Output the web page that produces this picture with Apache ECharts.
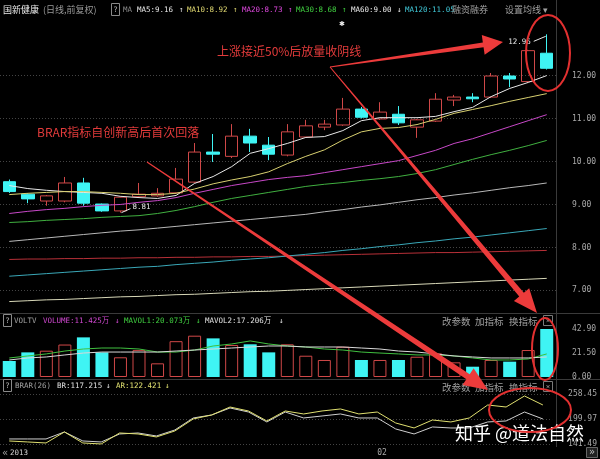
<!DOCTYPE html>
<html>
<head>
<meta charset="utf-8">
<script src="https://cdn.jsdelivr.net/npm/echarts@6/dist/echarts.min.js"></script>
<style>
html, body { margin: 0; padding: 0; background: #000; }
#main { width: 600px; height: 459px; }
</style>
</head>
<body>
<div id="main"></div>
<script>
// 交易日
var dates = ['2013-01-04','2013-01-07','2013-01-08','2013-01-09','2013-01-10','2013-01-11','2013-01-14','2013-01-15',
  '2013-01-16','2013-01-17','2013-01-18','2013-01-21','2013-01-22','2013-01-23','2013-01-24','2013-01-25',
  '2013-01-28','2013-01-29','2013-01-30','2013-01-31','2013-02-01','2013-02-04','2013-02-05','2013-02-06',
  '2013-02-07','2013-02-08','2013-02-18','2013-02-19','2013-02-20','2013-02-21'];

// [open, close, low, high]
var kline = [
  [9.53, 9.30, 9.27, 9.58], [9.24, 9.13, 9.03, 9.26], [9.08, 9.20, 8.97, 9.22], [9.08, 9.50, 9.05, 9.64],
  [9.50, 9.03, 8.97, 9.62], [9.01, 8.85, 8.83, 9.02], [8.85, 9.17, 8.81, 9.19], [9.18, 9.24, 9.16, 9.50],
  [9.20, 9.26, 9.18, 9.38], [9.27, 9.59, 9.25, 9.85], [9.52, 10.22, 9.50, 10.43], [10.22, 10.17, 9.99, 10.64],
  [10.12, 10.59, 10.08, 10.87], [10.59, 10.43, 10.22, 10.76], [10.38, 10.17, 10.03, 10.57], [10.15, 10.69, 10.12, 10.87],
  [10.57, 10.83, 10.55, 10.97], [10.80, 10.87, 10.73, 10.97], [10.85, 11.22, 10.83, 11.48], [11.22, 11.03, 11.00, 11.27],
  [10.99, 11.15, 10.97, 11.38], [11.10, 10.90, 10.85, 11.29], [10.80, 10.97, 10.55, 10.99], [10.94, 11.45, 10.92, 11.59],
  [11.43, 11.50, 11.29, 11.55], [11.50, 11.46, 11.38, 11.59], [11.50, 11.99, 11.48, 12.06], [11.99, 11.92, 11.73, 12.06],
  [11.86, 12.58, 11.83, 12.60], [12.52, 12.17, 12.14, 12.96]
];

// 均线
var ma5 = [9.44, 9.37, 9.33, 9.30, 9.28, 9.26, 9.19, 9.16, 9.14, 9.21, 9.49, 9.65, 9.88, 10.19, 10.30,
  10.42, 10.56, 10.58, 10.72, 10.95, 11.02, 11.02, 11.02, 11.05, 11.16, 11.26, 11.51, 11.70, 11.84, 12.00];
var ma10 = [9.23, 9.26, 9.28, 9.30, 9.30, 9.28, 9.26, 9.23, 9.23, 9.26, 9.36, 9.48, 9.57, 9.65, 9.76,
  9.95, 10.12, 10.27, 10.50, 10.69, 10.77, 10.79, 10.86, 10.98, 11.12, 11.21, 11.30, 11.40, 11.49, 11.58];
var ma20 = [8.79, 8.84, 8.88, 8.91, 8.95, 8.98, 9.00, 9.05, 9.09, 9.16, 9.26, 9.35, 9.44, 9.51, 9.58,
  9.63, 9.67, 9.74, 9.81, 9.88, 9.95, 10.02, 10.14, 10.26, 10.42, 10.53, 10.67, 10.81, 10.95, 11.09];
var ma30 = [8.58, 8.60, 8.63, 8.65, 8.67, 8.70, 8.72, 8.74, 8.79, 8.86, 8.95, 9.05, 9.14, 9.21, 9.28,
  9.35, 9.42, 9.47, 9.51, 9.56, 9.60, 9.65, 9.72, 9.81, 9.93, 10.05, 10.16, 10.26, 10.37, 10.49];
var ma60 = [8.14, 8.18, 8.22, 8.26, 8.30, 8.34, 8.38, 8.41, 8.45, 8.49, 8.53, 8.57, 8.61, 8.65, 8.69,
  8.73, 8.77, 8.83, 8.88, 8.94, 8.99, 9.05, 9.11, 9.16, 9.22, 9.27, 9.33, 9.39, 9.44, 9.50];
var maRed = [7.72, 7.73, 7.73, 7.74, 7.74, 7.75, 7.75, 7.76, 7.76, 7.77, 7.77, 7.78, 7.78, 7.79, 7.79,
  7.80, 7.81, 7.82, 7.83, 7.84, 7.85, 7.86, 7.87, 7.88, 7.88, 7.89, 7.90, 7.91, 7.92, 7.93];
var ma120 = [7.33, 7.36, 7.39, 7.42, 7.45, 7.48, 7.51, 7.54, 7.56, 7.60, 7.63, 7.66, 7.70, 7.73, 7.76,
  7.80, 7.84, 7.88, 7.93, 7.97, 8.02, 8.06, 8.11, 8.15, 8.20, 8.24, 8.29, 8.34, 8.39, 8.44];
var maLong = [6.74, 6.76, 6.78, 6.79, 6.81, 6.83, 6.85, 6.86, 6.88, 6.90, 6.91, 6.93, 6.95, 6.97, 6.98,
  7.00, 7.02, 7.04, 7.06, 7.08, 7.10, 7.12, 7.14, 7.16, 7.18, 7.20, 7.22, 7.24, 7.26, 7.28];

// 成交量 (万)
var volume = [14.3, 22.0, 23.5, 29.0, 35.4, 22.0, 17.6, 24.0, 12.2, 32.0, 36.9, 34.5, 28.6, 29.2, 22.0,
  29.2, 19.0, 15.2, 27.0, 15.2, 15.2, 15.2, 18.1, 21.1, 13.1, 9.2, 15.2, 13.7, 24.1, 42.9];
var mavol1 = [17.0, 18.8, 20.6, 23.2, 25.0, 25.9, 25.9, 25.0, 22.3, 22.3, 24.1, 27.7, 29.5, 32.2, 29.5,
  27.7, 26.8, 25.0, 24.1, 22.3, 21.4, 20.6, 19.7, 19.7, 18.8, 17.0, 15.2, 15.2, 16.1, 20.6];
var mavol2 = [15.2, 17.0, 17.9, 19.7, 21.4, 22.3, 22.3, 22.3, 22.3, 23.2, 24.1, 25.0, 25.9, 26.8, 27.7,
  27.7, 26.8, 26.8, 26.8, 25.9, 25.0, 23.2, 22.3, 20.6, 18.8, 17.9, 17.0, 17.0, 17.0, 17.9];

// BRAR(26)
var br = [153.2, 153.2, 153.2, 169.6, 148.5, 146.2, 164.9, 167.2, 160.2, 174.2, 202.3, 209.3, 225.7, 216.3, 193.0,
  216.3, 202.3, 207.0, 211.7, 202.3, 202.3, 176.6, 164.9, 181.3, 178.9, 178.9, 193.0, 195.3, 216.3, 200.0];
var ar = [148.5, 146.2, 143.8, 169.6, 143.8, 141.5, 167.2, 164.9, 157.9, 171.9, 200.0, 209.3, 228.0, 218.7, 195.3,
  218.7, 211.7, 218.7, 223.4, 211.7, 216.3, 190.6, 178.9, 197.6, 193.0, 202.3, 232.7, 228.0, 253.8, 232.7];

// 刻度
var priceTicks = [7, 8, 9, 10, 11, 12];
var volTicks = [0, 21.5, 42.9];
var brarTicks = [141.49, 199.97, 258.45];

var UP = '#d04848';
var DOWN = '#3ff4f4';
var MONO = '7.5px "DejaVu Sans Mono", "Noto Sans CJK SC"';
var CJK = '9.5px "Noto Sans CJK SC"';

var myChart = echarts.init(document.getElementById('main'));

function yAxisOf(grid, min, max, ticks, split) {
  return {
    type: 'value', gridIndex: grid, position: 'right', min: min, max: max, scale: true,
    axisLine: { show: false },
    axisTick: { show: false, customValues: ticks },
    axisLabel: {
      customValues: ticks, color: '#a8a8a8', margin: 16,
      fontSize: 8, fontFamily: 'DejaVu Sans Mono',
      formatter: function (v) { return v.toFixed(2); }
    },
    splitLine: { show: split, lineStyle: { color: '#444', type: [1, 2] } }
  };
}

function xAxisOf(grid, showLabel) {
  return {
    type: 'category', gridIndex: grid, data: dates, boundaryGap: true,
    axisLine: { show: false }, axisTick: { show: false },
    axisLabel: {
      show: showLabel, interval: 0, color: '#a8a8a8', fontSize: 8, fontFamily: 'DejaVu Sans Mono',
      align: 'left', margin: 2,
      formatter: function (v, i) {
        // 每月首个交易日标月份
        if (i > 0 && v.slice(5, 7) !== dates[i - 1].slice(5, 7)) return v.slice(5, 7);
        return '';
      }
    },
    splitLine: { show: false }
  };
}

function maLine(name, data, color) {
  return {
    name: name, type: 'line', xAxisIndex: 0, yAxisIndex: 0, data: data,
    showSymbol: false, silent: true, clip: false,
    lineStyle: { color: color, width: 1 }, z: 3
  };
}

var volData = volume.map(function (v, i) {
  var up = kline[i][1] >= kline[i][0];
  return {
    value: v,
    itemStyle: up ? { color: 'transparent', borderColor: UP, borderWidth: 1 } : { color: DOWN }
  };
});

var option = {
  backgroundColor: '#000',
  animation: false,
  grid: [
    { left: 0, right: 44, top: 18, height: 287 },
    { left: 0, right: 44, top: 318, height: 59 },
    { left: 0, right: 44, top: 382, height: 65 }
  ],
  xAxis: [xAxisOf(0, false), xAxisOf(1, false), xAxisOf(2, true)],
  yAxis: [
    yAxisOf(0, 6.66, 13.34, priceTicks, true),
    yAxisOf(1, 0, 52.7, volTicks, false),
    yAxisOf(2, 134.4, 286.5, brarTicks, true)
  ],
  series: [
    {
      name: '日K', type: 'candlestick', xAxisIndex: 0, yAxisIndex: 0, data: kline, barWidth: 13,
      itemStyle: { color: 'transparent', color0: DOWN, borderColor: UP, borderColor0: DOWN, borderWidth: 1 },
      z: 2
    },
    maLine('MA5', ma5, '#e8e8e8'),
    maLine('MA10', ma10, '#d8d070'),
    maLine('MA20', ma20, '#c848c8'),
    maLine('MA30', ma30, '#40b040'),
    maLine('MA60', ma60, '#b8b8b8'),
    maLine('MA90', maRed, '#b83038'),
    maLine('MA120', ma120, '#3aa8b8'),
    maLine('MA250', maLong, '#d8d8b8'),
    {
      name: 'VOLUME', type: 'bar', xAxisIndex: 1, yAxisIndex: 1, data: volData, barWidth: 13
    },
    {
      name: 'MAVOL1', type: 'line', xAxisIndex: 1, yAxisIndex: 1, data: mavol1, showSymbol: false,
      lineStyle: { color: '#40c040', width: 1 }, z: 3
    },
    {
      name: 'MAVOL2', type: 'line', xAxisIndex: 1, yAxisIndex: 1, data: mavol2, showSymbol: false,
      lineStyle: { color: '#d8d8d8', width: 1 }, z: 3
    },
    {
      name: 'BR', type: 'line', xAxisIndex: 2, yAxisIndex: 2, data: br, showSymbol: false,
      lineStyle: { color: '#cfcfcf', width: 1 }
    },
    {
      name: 'AR', type: 'line', xAxisIndex: 2, yAxisIndex: 2, data: ar, showSymbol: false,
      lineStyle: { color: '#e0e070', width: 1 }
    }
  ]
};

myChart.setOption(option);

// ---- 文字, 分隔线, 标注 ----
function txt(x, y, s, color, font, align) {
  return { type: 'text', x: x, y: y, silent: true, z: 20,
    style: { text: s, fill: color, font: font, align: align || 'left', verticalAlign: 'middle' } };
}
function line(x1, y1, x2, y2, color, w) {
  return { type: 'line', silent: true, z: 20, shape: { x1: x1, y1: y1, x2: x2, y2: y2 },
    style: { stroke: color, lineWidth: w || 1 } };
}
function qbox(x, y) {
  return [
    { type: 'rect', silent: true, z: 20, shape: { x: x + 0.5, y: y - 6.5, width: 8, height: 12 },
      style: { fill: 'none', stroke: '#8a8a8a', lineWidth: 1 } },
    txt(x + 4.5, y, '?', '#b0b0b0', MONO, 'center')
  ];
}
function taperArrow(x1, y1, x2, y2, w0, w1, hw, hl) {
  var dx = x2 - x1, dy = y2 - y1, len = Math.sqrt(dx * dx + dy * dy);
  var ux = dx / len, uy = dy / len, nx = -uy, ny = ux;
  var bx = x2 - ux * hl, by = y2 - uy * hl;
  return { type: 'polygon', silent: true, z: 30, shape: { points: [
    [x1 + nx * w0 / 2, y1 + ny * w0 / 2], [bx + nx * w1 / 2, by + ny * w1 / 2],
    [bx + nx * hw / 2, by + ny * hw / 2], [x2, y2],
    [bx - nx * hw / 2, by - ny * hw / 2], [bx - nx * w1 / 2, by - ny * w1 / 2],
    [x1 - nx * w0 / 2, y1 - ny * w0 / 2]
  ] }, style: { fill: '#ec3b3b' } };
}
function ring(cx, cy, rx, ry) {
  return { type: 'ellipse', silent: true, z: 30, shape: { cx: cx, cy: cy, rx: rx, ry: ry },
    style: { fill: 'none', stroke: '#e23030', lineWidth: 2 } };
}

var g = [];
// 分隔线
g.push(line(556.5, 0, 556.5, 447, '#3a3a3a'));
g.push(line(0, 313.5, 600, 313.5, '#3a3a3a'));
g.push(line(0, 379.5, 600, 379.5, '#3a3a3a'));

// 主图标题
g.push(txt(3, 10, '国新健康', '#e8e8e8', '9px "Noto Sans CJK SC"'));
g.push(txt(43, 10, '(日线,前复权)', '#9a9a9a', '9px "Noto Sans CJK SC"'));
g = g.concat(qbox(111, 10));
g.push(txt(123, 10, 'MA', '#8a8a8a', MONO));
g.push(txt(137, 10, 'MA5:9.16', '#e8e8e8', MONO), txt(179, 10, '↑', '#e8e8e8', MONO));
g.push(txt(187, 10, 'MA10:8.92', '#e0d870', MONO), txt(233, 10, '↑', '#e0d870', MONO));
g.push(txt(242, 10, 'MA20:8.73', '#e048e0', MONO), txt(288, 10, '↑', '#e048e0', MONO));
g.push(txt(296, 10, 'MA30:8.68', '#40d040', MONO), txt(342, 10, '↑', '#40d040', MONO));
g.push(txt(351, 10, 'MA60:9.00', '#e8e8e8', MONO), txt(397, 10, '↓', '#e8e8e8', MONO));
g.push(txt(405, 10, 'MA120:11.05', '#40c8d8', MONO));
g.push(txt(452, 10, '融资融券', '#a0a0a0', '9px "Noto Sans CJK SC"'));
g.push(txt(505, 10, '设置均线 ▾', '#a0a0a0', '9px "Noto Sans CJK SC"'));
g.push(txt(342, 24, '✱', '#f0f0f0', '7px "DejaVu Sans"', 'center'));

// 成交量标题
g = g.concat(qbox(3, 321));
g.push(txt(14, 321, 'VOLTV', '#a0a0a0', MONO));
g.push(txt(43, 321, 'VOLUME:11.425万', '#d048d0', MONO), txt(115, 321, '↓', '#d048d0', MONO));
g.push(txt(124, 321, 'MAVOL1:20.073万', '#40d040', MONO), txt(196, 321, '↓', '#40d040', MONO));
g.push(txt(205, 321, 'MAVOL2:17.206万', '#e0e0e0', MONO), txt(279, 321, '↓', '#e0e0e0', MONO));

// BRAR 标题
g = g.concat(qbox(3, 386));
g.push(txt(15, 386, 'BRAR(26)', '#a0a0a0', MONO));
g.push(txt(57, 386, 'BR:117.215', '#e0e0e0', MONO), txt(106, 386, '↓', '#e0e0e0', MONO));
g.push(txt(116, 386, 'AR:122.421', '#e0e070', MONO), txt(165, 386, '↓', '#e0e070', MONO));

[321, 387].forEach(function (y) {
  g.push(txt(442, y, '改参数', '#a0a0a0', CJK));
  g.push(txt(475, y, '加指标', '#a0a0a0', CJK));
  g.push(txt(509, y, '换指标', '#a0a0a0', CJK));
  g.push({ type: 'rect', silent: true, z: 20, shape: { x: 543.5, y: y - 5.5, width: 9, height: 10 },
    style: { fill: 'none', stroke: '#7a7a7a', lineWidth: 1 } });
  g.push(txt(548, y, '×', '#9a9a9a', MONO, 'center'));
});

// 底部
g.push(txt(2, 453, '«', '#a0a0a0', '10px "DejaVu Sans"'));
g.push(txt(10, 453, '2013', '#d0d0d0', MONO));
g.push({ type: 'rect', silent: true, z: 20, shape: { x: 586.5, y: 447.5, width: 11, height: 10 },
  style: { fill: '#222', stroke: '#666', lineWidth: 1 } });
g.push(txt(592, 452, '»', '#c0c0c0', '10px "DejaVu Sans"', 'center'));

// 最低价 / 最高价标注
var lowIdx = 6, highIdx = 29;
var pLow = myChart.convertToPixel({ gridIndex: 0 }, [lowIdx, kline[lowIdx][2]]);
var pHigh = myChart.convertToPixel({ gridIndex: 0 }, [highIdx, kline[highIdx][3]]);
g.push(line(pLow[0] + 1, pLow[1], pLow[0] + 10, pLow[1] - 4, '#e8e8e8'));
g.push(txt(pLow[0] + 12, pLow[1] - 6, kline[lowIdx][2].toFixed(2), '#e8e8e8', MONO));
g.push(line(pHigh[0] - 1, pHigh[1] + 2, pHigh[0] - 13, pHigh[1] + 7, '#e8e8e8'));
g.push(txt(pHigh[0] - 16, pHigh[1] + 8, kline[highIdx][3].toFixed(2), '#e8e8e8', MONO, 'right'));

// 红色标注
g.push(txt(217, 51, '上涨接近50%后放量收阴线', '#e23b3b', '12px "Noto Sans CJK SC"'));
g.push(txt(37, 132, 'BRAR指标自创新高后首次回落', '#e23b3b', '12px "Noto Sans CJK SC"'));
g.push(taperArrow(330, 67, 503, 42, 1, 5, 20, 20));
g.push(taperArrow(330, 67, 537, 313, 1, 6, 20, 24));
g.push(taperArrow(147, 162, 488, 390, 1, 6, 20, 24));
g.push(ring(548, 53, 22, 38));
g.push(ring(545, 349, 13, 31));
g.push(ring(530, 410, 41, 22));

// 水印
g.push(txt(455, 433, '知乎 @道法自然', '#ffffff', '18px "Noto Sans CJK SC"'));

myChart.setOption({ graphic: g });
</script>
</body>
</html>
